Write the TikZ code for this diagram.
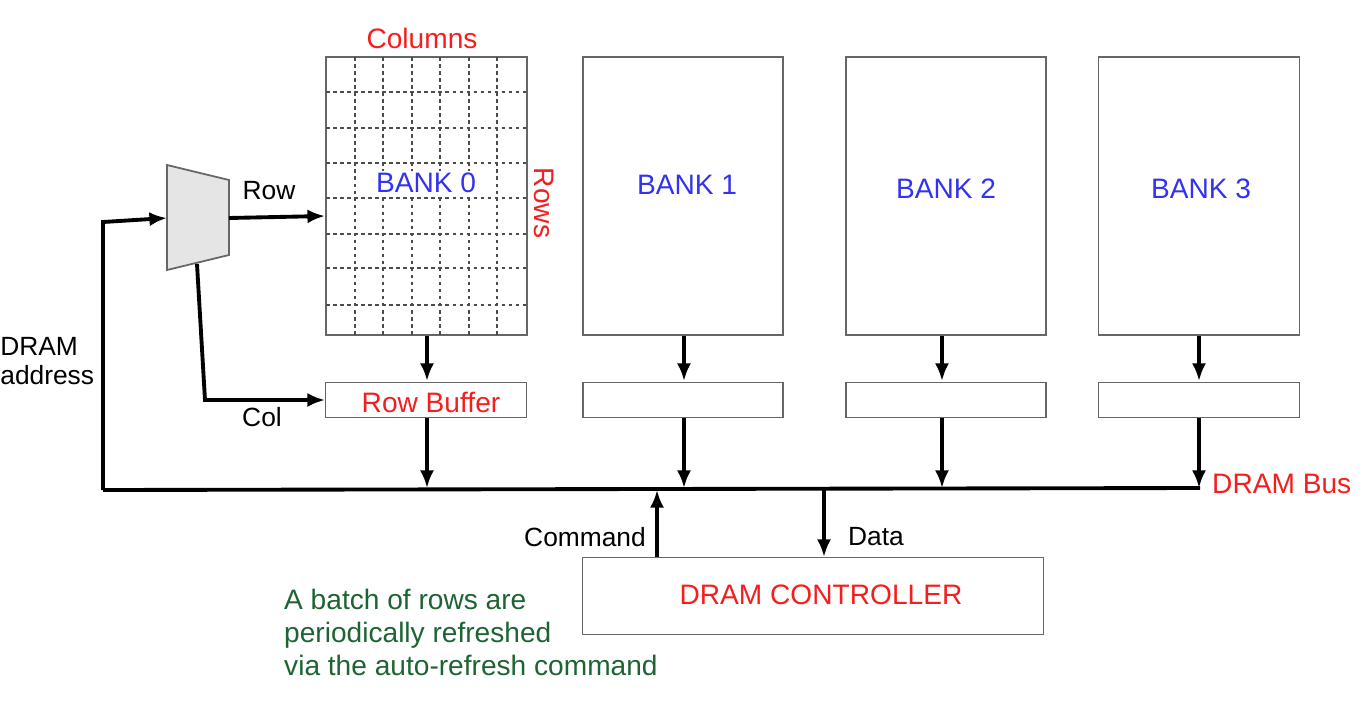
\documentclass[tikz,border=0pt]{standalone}
\usepackage{fontspec}
\setmainfont{Liberation Sans}
\usetikzlibrary{arrows.meta}
\definecolor{rd}{RGB}{245,30,30}
\definecolor{bl}{RGB}{50,50,240}
\definecolor{gr}{RGB}{30,100,50}
\begin{document}
\begin{tikzpicture}[x=0.02cm,y=-0.02cm,
  box/.style={draw=black!60,line width=1pt},
  wire/.style={line width=2.2pt},
  arr/.style={wire,-{Latex[length=10pt,width=8pt]}},
  lbl/.style={font=\fontsize{15}{17}\selectfont},
  big/.style={font=\fontsize{16}{18.7}\selectfont},
  bank/.style={text=bl,font=\fontsize{16}{18}\selectfont}]
\useasboundingbox (0,0) rectangle (1367,707);
% banks
\draw[box] (326,57) rectangle (527,335);
\foreach \x in {355,383,412,440,469,497} \draw[dash pattern=on 2pt off 2pt,black!70,line width=0.6pt] (\x,57) -- (\x,335);
\foreach \y in {92,128,163,198,234,268,305} \draw[dash pattern=on 2pt off 2pt,black!70,line width=0.6pt] (326,\y) -- (527,\y);
\node[fill=white,inner sep=1pt,bank] (b0) at (426,183) {BANK 0};
\node[box,minimum width=200*0.02cm,minimum height=278*0.02cm,inner sep=0pt] (b1) at (683,196) {};
\node[box,minimum width=200*0.02cm,minimum height=278*0.02cm,inner sep=0pt] (b2) at (946,196) {};
\node[box,minimum width=201*0.02cm,minimum height=278*0.02cm,inner sep=0pt] (b3) at (1199,196) {};
\node[bank] at (687,185) {BANK 1};
\node[bank] at (946,189) {BANK 2};
\node[bank] at (1201,189) {BANK 3};
\node[big,text=rd] (cols) at (422,38) {Columns};
\node[big,text=rd,rotate=-90] (rows) at (544,203) {Rows};
% row buffers
\node[box,minimum width=201*0.02cm,minimum height=35*0.02cm,inner sep=0pt] (r0) at (426,400) {};
\node[big,text=rd] at (431,402) {Row Buffer};
\node[box,minimum width=200*0.02cm,minimum height=35*0.02cm,inner sep=0pt] (r1) at (683,400) {};
\node[box,minimum width=200*0.02cm,minimum height=35*0.02cm,inner sep=0pt] (r2) at (946,400) {};
\node[box,minimum width=201*0.02cm,minimum height=35*0.02cm,inner sep=0pt] (r3) at (1199,400) {};
% bank to buffer
\foreach \x in {427,684,942,1199} {
  \draw[arr] (\x,336) -- (\x,381);
  \draw[arr] (\x,418) -- (\x,488);
}
% bus
\coordinate (busL) at (103,490);
\coordinate (busR) at (1200,488);
\draw[wire] (busL) -- (busR);
\node[big,text=rd,anchor=west] at (1206,484) {DRAM Bus};
% mux
\draw[fill=black!10,draw=black!60,line width=1pt] (167,165) -- (229,180) -- (229,255) -- (167,270) -- cycle;
\coordinate (muxin) at (167,218);
\draw[arr] (busL) -- (103,222) -- (muxin);
\draw[arr] (229,218) -- (325,216);
\node[lbl] at (269,191) {Row};
\draw[arr] (197,264) -- (205,400) -- (325,400);
\node[lbl] at (262,417) {Col};
\node[lbl,align=left,anchor=west,inner sep=0pt] at (0,361) {DRAM\\address};
% controller
\node[box,minimum width=461*0.02cm,minimum height=77*0.02cm,inner sep=0pt] (ctl) at (813,596) {};
\node[big,text=rd] at (821,595) {DRAM CONTROLLER};
\draw[arr] (657,557) -- (657,490);
\node[lbl,anchor=east] at (652,537) {Command};
\draw[arr] (824,488) -- (824,557);
\node[lbl,anchor=west] at (842,537) {Data};
\node[text=gr,align=left,anchor=north west,font=\fontsize{16}{18.7}\selectfont] at (278,583) {A batch of rows are\\periodically refreshed\\via the auto-refresh command};
\end{tikzpicture}
\end{document}
